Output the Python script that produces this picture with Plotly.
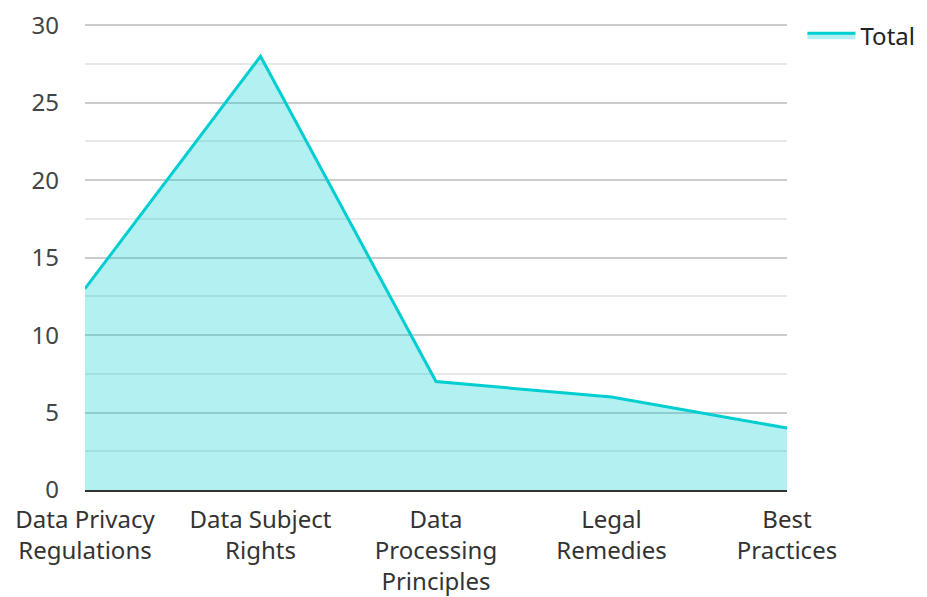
import plotly.graph_objects as go

categories = ["Data Privacy<br>Regulations", "Data Subject<br>Rights", "Data<br>Processing<br>Principles", "Legal<br>Remedies", "Best<br>Practices"]
totals = [13, 28, 7, 6, 4]
series_name = "Total"
y_ticks = [0, 5, 10, 15, 20, 25, 30]
y_minor_ticks = [2.5, 7.5, 12.5, 17.5, 22.5, 27.5]

fig = go.Figure()
fig.add_trace(go.Scatter(
    x=categories, y=totals, name=series_name, mode="lines",
    line=dict(color="#00CED1", width=3),
    fill="tozeroy", fillcolor="rgba(0,206,209,0.3)",
))

fig.update_layout(
    width=919, height=589,
    margin=dict(l=77, r=140, t=15, b=107, autoexpand=False),
    plot_bgcolor="white", paper_bgcolor="white",
    font=dict(family="Noto Sans", size=24, color="#333"),
    showlegend=True,
    legend=dict(x=1.022, y=1.021, xanchor="left", yanchor="top", itemwidth=48,
                font=dict(size=24, color="#222")),
)
fig.update_xaxes(
    type="category", range=[0, 4], showgrid=False, automargin=False,
    showline=True, linecolor="#333", linewidth=2,
    ticks="", tickangle=0, ticklabelstandoff=7, ticklabeloverflow="allow",
    tickfont=dict(size=24, color="#333"),
)
fig.update_yaxes(
    range=[0, 30.15], tickvals=y_ticks, showgrid=True, gridcolor="#cccccc", gridwidth=1.5,
    zeroline=False, showline=False, ticks="", ticklabelstandoff=25, automargin=False,
    ticklabeloverflow="allow",
    tickfont=dict(size=24, color="#444"),
    minor=dict(tickvals=y_minor_ticks, showgrid=True, gridcolor="#e8e8e8", gridwidth=1.5),
)

fig.write_html("out.html")
